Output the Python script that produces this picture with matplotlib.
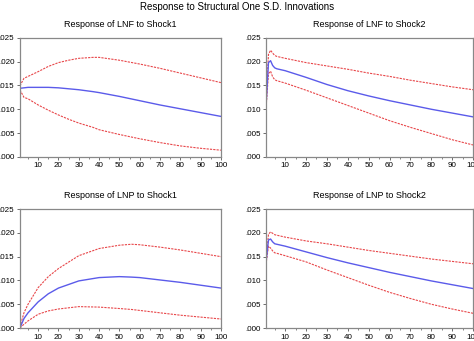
import numpy as np
import matplotlib.pyplot as plt
from matplotlib.ticker import FuncFormatter, MultipleLocator

plt.rcParams['font.family'] = ['Liberation Sans', 'DejaVu Sans']

x_lnf1 = [1, 3, 5, 10, 15, 20, 25, 30, 37, 40, 50, 60, 70, 80, 90, 100]
lnf1_mid = [0.0144, 0.0145, 0.0146, 0.0146, 0.0146, 0.0145, 0.0143, 0.0141, 0.0137, 0.0135, 0.0127, 0.0118, 0.0109, 0.0101, 0.0093, 0.0085]
lnf1_up = [0.0149, 0.0165, 0.0169, 0.0179, 0.0190, 0.0198, 0.0203, 0.0207, 0.0209, 0.0209, 0.0203, 0.0195, 0.0186, 0.0176, 0.0166, 0.0156]
lnf1_lo = [0.0141, 0.0125, 0.0122, 0.0109, 0.0098, 0.0088, 0.0079, 0.0071, 0.0062, 0.0057, 0.0047, 0.0038, 0.0030, 0.0023, 0.0018, 0.0014]

x_lnf2 = [1, 2, 3, 4, 5, 6, 10, 20, 30, 40, 50, 60, 70, 80, 90, 100]
lnf2_mid = [0.0120, 0.0198, 0.0202, 0.0192, 0.0187, 0.0185, 0.0181, 0.0167, 0.0152, 0.0139, 0.0128, 0.0118, 0.0109, 0.0100, 0.0092, 0.0084]
lnf2_up = [0.0128, 0.0215, 0.0224, 0.0218, 0.0213, 0.0211, 0.0207, 0.0198, 0.0191, 0.0184, 0.0176, 0.0169, 0.0161, 0.0154, 0.0147, 0.0141]
lnf2_lo = [0.0112, 0.0175, 0.0180, 0.0168, 0.0162, 0.0160, 0.0155, 0.0140, 0.0124, 0.0108, 0.0092, 0.0076, 0.0062, 0.0049, 0.0036, 0.0025]

x_lnp1 = [1, 3, 5, 10, 15, 20, 30, 40, 50, 56, 60, 70, 80, 90, 100]
lnp1_mid = [0.0000, 0.0020, 0.0032, 0.0055, 0.0072, 0.0084, 0.0099, 0.0106, 0.0108, 0.0107, 0.0106, 0.0101, 0.0096, 0.0090, 0.0084]
lnp1_up = [0.0002, 0.0032, 0.0050, 0.0085, 0.0108, 0.0125, 0.0152, 0.0167, 0.0174, 0.0176, 0.0175, 0.0170, 0.0164, 0.0157, 0.0150]
lnp1_lo = [0.0000, 0.0008, 0.0015, 0.0029, 0.0036, 0.0040, 0.0045, 0.0044, 0.0041, 0.0039, 0.0037, 0.0032, 0.0027, 0.0023, 0.0019]

x_lnp2 = [1, 2, 3, 4, 5, 6, 10, 20, 30, 40, 50, 60, 70, 80, 90, 100]
lnp2_mid = [0.0145, 0.0185, 0.0187, 0.0181, 0.0177, 0.0176, 0.0172, 0.0160, 0.0148, 0.0137, 0.0127, 0.0117, 0.0108, 0.0099, 0.0091, 0.0083]
lnp2_up = [0.0150, 0.0197, 0.0202, 0.0199, 0.0196, 0.0195, 0.0191, 0.0183, 0.0177, 0.0170, 0.0163, 0.0157, 0.0151, 0.0145, 0.0140, 0.0135]
lnp2_lo = [0.0140, 0.0172, 0.0168, 0.0162, 0.0158, 0.0157, 0.0152, 0.0139, 0.0122, 0.0106, 0.0090, 0.0075, 0.0062, 0.0050, 0.0040, 0.0031]

panels = [
    ('Response of LNF to Shock1', x_lnf1, lnf1_mid, lnf1_up, lnf1_lo, [0.042, 0.540, 0.424, 0.349]),
    ('Response of LNF to Shock2', x_lnf2, lnf2_mid, lnf2_up, lnf2_lo, [0.562, 0.540, 0.436, 0.349]),
    ('Response of LNP to Shock1', x_lnp1, lnp1_mid, lnp1_up, lnp1_lo, [0.042, 0.038, 0.424, 0.349]),
    ('Response of LNP to Shock2', x_lnp2, lnp2_mid, lnp2_up, lnp2_lo, [0.562, 0.038, 0.436, 0.349]),
]

fig = plt.figure(figsize=(4.74, 3.41), dpi=100)
fig.text(0.5, 0.995, 'Response to Structural One S.D. Innovations', ha='center', va='top', fontsize=7)

fmt = FuncFormatter(lambda v, p: f'{v:.3f}'.lstrip('0'))

for title, xs, mid, up, lo, pos in panels:
    ax = fig.add_axes(pos)
    ax.plot(xs, up, color='#e8474a', lw=0.8, ls=(0, (2, 1)))
    ax.plot(xs, lo, color='#e8474a', lw=0.8, ls=(0, (2, 1)))
    ax.plot(xs, mid, color='#5b5bea', lw=1.0)
    ax.set_xlim(1, 100)
    ax.set_ylim(0, 0.025)
    ax.set_xticks(np.arange(10, 101, 10))
    ax.xaxis.set_minor_locator(MultipleLocator(5))
    ax.set_yticks(np.arange(0, 0.0251, 0.005))
    ax.yaxis.set_major_formatter(fmt)
    ax.tick_params(labelsize=5.8, length=2.5, width=0.6, color='#555555', pad=1.5)
    ax.tick_params(which='minor', length=1.5, width=0.5, color='#555555')
    for s in ax.spines.values():
        s.set_color('#888888')
        s.set_linewidth(0.9)
    ax.set_title(title, fontsize=6.5, pad=8)

fig.savefig('out.png', dpi=100)
